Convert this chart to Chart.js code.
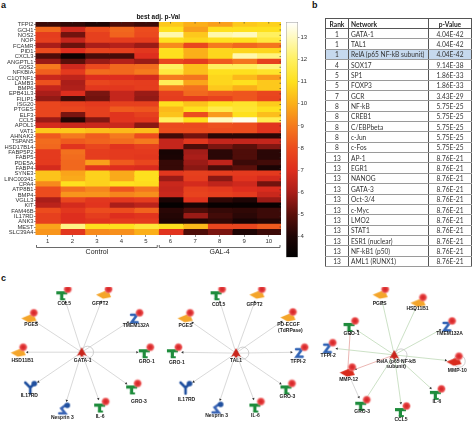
<!DOCTYPE html>
<html>
<head>
<meta charset="utf-8">
<title>Expression heatmap and transcription networks</title>
<script src="https://cdn.jsdelivr.net/npm/chart.js@4"></script>
<style>
  html, body { margin: 0; padding: 0; background: #fff; }
  body { position: relative; width: 474px; height: 428px; overflow: hidden; }
  canvas { position: absolute; display: block; }
  .panel { position: absolute; font: bold 9px "Liberation Sans", sans-serif; color: #111; }
  table { position: absolute; left: 325px; top: 18px; width: 146px; height: 249px; border-collapse: collapse;
          table-layout: fixed; font: 6.6px Lato, sans-serif; color: #333; border: 1px solid #555; }
  th { font-weight: bold; color: #222; height: 9px; }
  td, th { padding: 0 0 0 2px; border-bottom: 1px solid #9a9a9a; border-right: 1px solid #555; white-space: nowrap; line-height: 8px; }
  tr:first-child th { border-bottom: 1px solid #555; }
  .c { text-align: center; padding: 0; }
  .hl td { background: #c6d9ee; }
</style>
</head>
<body>
<span class="panel" style="left:1px;top:0px">a</span>
<span class="panel" style="left:312px;top:0px">b</span>
<span class="panel" style="left:1px;top:273px">c</span>
<canvas id="heat" width="284" height="262" style="left:0;top:0"></canvas>
<canvas id="colorbar" width="45" height="262" style="left:280px;top:0"></canvas>
<canvas id="network" width="474" height="148" style="left:0;top:280px"></canvas>
<div id="tableHolder"></div>
<script>
const genes = ["TFPI2","GCH1","NOS2","NOP","FCAMR","PID1","CXCL3","ANGPTL1","G0S2","NFKBIA",
  "C1QTNF1","LAMB3","BMP6","EPB41L3","FILIP1","ISG20","PTGES","ELF3","CCL5","APOL1",
  "VAT1","AHNAK2","TSPAN5","HSD17B14","FABP5P2","FABP5","PDE5A","FABP4","SYNE3","LINC00341",
  "CPA4","ATP8B1","BMP4","VGLL3","KIT","FAM46B","IL17RD","ANK3","MEST","SLC39A4"];
const samples = ["1","2","3","4","5","6","7","8","9","10"];
const groups = [["Control", 0, 5], ["GAL-4", 5, 10]];

// log2 expression, one row per gene
const controlRows = [
  [4.5,4.3,4.0,4.8,4.5],[8.6,6.7,8.0,8.6,8.0],[7.5,5.3,7.6,8.5,7.9],[7.6,6.5,7.6,7.5,7.5],[6.0,5.2,6.0,6.2,5.8],
  [8.0,7.0,7.7,7.6,7.3],[4.8,3.5,4.7,4.7,7.0],[5.8,5.0,5.8,6.2,5.8],[9.0,6.7,7.9,8.6,8.7],[8.4,7.4,8.7,8.6,9.0],
  [6.6,6.4,7.0,7.0,6.8],[8.1,6.0,7.8,7.6,7.5],[6.5,6.1,7.3,7.3,7.5],[6.0,7.0,5.4,6.5,5.8],[5.7,4.6,5.3,6.5,5.7],
  [7.8,7.6,7.4,7.6,7.6],[7.8,7.8,7.6,8.3,8.2],[7.8,5.4,7.6,7.2,7.6],[5.8,4.1,5.5,7.2,7.3],[6.8,6.6,6.6,6.6,5.6],
  [10.5,10.5,10.3,10.2,10.3],[8.3,9.0,8.4,9.0,8.0],[8.7,8.3,8.5,8.7,9.0],[8.6,7.2,7.8,7.2,7.6],[7.4,8.8,7.5,7.4,7.4],
  [7.4,8.7,7.5,7.4,7.3],[7.4,8.6,9.7,8.3,7.8],[6.8,8.6,7.2,7.0,6.9],[10.4,9.8,10.7,9.9,11.0],[10.4,9.9,10.7,9.9,11.0],
  [9.3,11.0,10.7,11.0,10.9],[8.0,8.8,9.2,8.2,8.9],[8.0,9.5,9.5,9.2,9.4],[6.0,7.8,7.3,7.3,7.5],[6.3,6.8,7.2,6.0,6.3],
  [8.0,7.3,8.0,8.0,8.5],[7.6,7.0,7.5,7.0,7.2],[7.6,7.0,7.2,7.4,7.4],[9.8,12.4,11.0,11.0,11.4],[9.5,7.3,9.3,9.4,10.0]
];
const gal4Rows = [
  [10.5,10.0,9.7,10.5,10.7],[11.0,9.7,11.0,11.0,11.0],[12.8,10.5,12.8,13.0,12.0],[11.0,10.8,11.0,11.0,11.5],[9.3,7.8,9.0,8.6,8.9],
  [11.0,10.0,10.8,10.8,10.8],[11.0,10.0,10.8,12.8,12.3],[7.8,7.4,8.3,8.9,7.6],[12.0,10.3,12.0,12.0,12.3],[11.5,10.3,11.0,11.0,11.2],
  [9.0,8.9,10.8,10.2,9.6],[11.9,9.8,10.8,11.0,10.5],[9.0,8.8,10.5,10.0,10.5],[7.6,8.6,8.3,8.2,7.8],[7.5,7.4,7.7,8.2,7.7],
  [11.0,10.4,11.0,11.2,10.6],[10.2,11.0,11.7,11.3,11.0],[10.4,8.0,9.6,11.0,10.3],[12.0,11.0,13.0,13.5,11.8],[7.9,7.9,8.1,8.0,7.2],
  [8.0,8.0,8.0,8.0,7.2],[4.6,5.3,4.2,4.2,4.2],[6.5,7.3,6.5,6.5,6.5],[6.5,4.8,5.4,5.0,5.5],[3.8,5.9,4.2,4.8,4.2],
  [3.9,6.0,4.2,4.8,4.2],[4.4,5.8,6.4,4.5,4.6],[4.4,5.6,4.7,5.0,3.9],[7.3,7.6,7.5,7.4,7.4],[5.8,7.5,5.6,7.2,6.8],
  [6.6,6.8,6.4,6.7,5.3],[6.5,7.6,7.4,7.0,6.9],[6.6,7.7,7.6,7.4,6.6],[3.9,7.2,4.3,4.0,5.8],[3.2,3.8,3.3,3.3,3.3],
  [4.2,4.8,4.4,4.3,4.5],[4.1,5.8,4.6,4.2,4.5],[4.0,4.1,4.3,3.8,4.1],[11.0,10.2,7.8,7.8,8.3],[7.2,4.8,5.4,4.0,4.5]
];

const colorbarTicks = [4,5,6,7,8,9,10,11,12,13];
const colorbarMin = 3.05;
const colorbarMax = 13.7;

const ranks = [1,1,1,4,5,5,7,8,8,8,8,8,13,13,13,13,13,13,13,13,13,13,13];
const networks = ["GATA-1","TAL1","RelA (p65 NF-kB subunit)","SOX17","SP1","FOXP3","GCR","NF-kB","CREB1","C/EBPbeta","c-Jun","c-Fos",
  "AP-1","EGR1","NANOG","GATA-3","Oct-3/4","c-Myc","LMO2","STAT1","ESR1 (nuclear)","NF-kB1 (p50)","AML1 (RUNX1)"];
const pValues = ["4.04E-42","4.04E-42","4.04E-42","9.14E-38","1.86E-33","1.86E-33","3.43E-29","5.75E-25","5.75E-25","5.75E-25","5.75E-25","5.75E-25",
  "8.76E-21","8.76E-21","8.76E-21","8.76E-21","8.76E-21","8.76E-21","8.76E-21","8.76E-21","8.76E-21","8.76E-21","8.76E-21"];

// network nodes: name, x, y, icon kind, label x, label y
const gataNodes = [
  ["COL5",58,288,"T",59,298],["GFPT2",100,288,"F",96,298],["PGES",23,314,"F",25,322],["TMEM132A",132,314,"Z",133,323],
  ["HSD11B1",12,352,"F",16,361],["GRO-1",143,352,"T",144,362],["IL17RD",25,390,"Y",23,400],["GRO-3",130,392,"T",136,407],
  ["Nesprin 3",59,414,"C",57,424],["IL-6",97,412,"T",96,423]
];
const talNodes = [
  ["COL5",217,288,"T",218,299],["GFPT2",258,288,"F",255,299],["PGES",184,314,"F",184,323],["PD-ECGF",290,313,"F",290,322],
  ["GRO-1",172,352,"T",175,364],["TFPI-2",302,352,"Z",300,362],["IL17RD",185,390,"Y",185,404],["GRO-3",289,392,"T",289,401],
  ["Nesprin 3",217,413,"C",216,422],["IL-6",257,412,"T",256,422]
];
const relaNodes = [
  ["PGES",385,288,"F",384,298],["HSD11B1",424,297,"F",423,304],["GRO-1",354,323,"T",355,332],["TMEM132A",454,323,"Z",456,332],
  ["TFPI-2",331,347,"Z",331,356],["MMP-10",461,362,"M",464,372],["MMP-12",351,374,"M",352,382],["IL-6",443,398,"T",443,407],
  ["GRO-3",366,410,"T",366,418],["CCL5",407,417,"T",406,426]
];
const hubs = [["GATA-1",77,352,78,361],["TAL1",236,353,236,361],["RelA (p65 NF-kB",399,355,401,362]];
const extraLabels = [["(TdRPase)",292,328],["subunit)",401,368]];
const selfLoops = [[83,352],[243,353],[406,355],[466,362]];
// extra interactions between targets in the RelA network: from, to
const mmpEdges = [[374,"GRO-1"],[374,"GRO-3"]];

const stops = [[3.05,[0,0,0]],[4,[30,5,5]],[5,[90,15,10]],[6,[170,30,25]],[7,[222,46,30]],[8,[236,76,30]],
  [9,[245,122,30]],[10,[251,175,25]],[11,[254,224,30]],[12,[255,240,95]],[13,[255,250,190]],[13.7,[255,255,255]]];

function heatColor(v) {
  if (v <= stops[0][0]) return "rgb(0,0,0)";
  for (let i = 1; i < stops.length; i++) {
    if (v <= stops[i][0]) {
      const a = stops[i - 1], b = stops[i];
      const t = (v - a[0]) / (b[0] - a[0]);
      const c = a[1].map((p, k) => Math.round(p + (b[1][k] - p) * t));
      return "rgb(" + c.join(",") + ")";
    }
  }
  return "rgb(255,255,255)";
}

// stacked horizontal bars: every gene is a row, every sample one unit wide
const heatRows = genes.map((g, i) => controlRows[i].concat(gal4Rows[i]));
const heatDatasets = samples.map((s, col) => ({
  label: s,
  data: genes.map(() => 1),
  backgroundColor: heatRows.map(r => heatColor(r[col])),
  barPercentage: 1,
  categoryPercentage: 1,
  inflateAmount: 0.6,
  stack: "all"
}));

const groupBrackets = {
  id: "groupBrackets",
  afterDraw(chart) {
    const ctx = chart.ctx, x = chart.scales.x, y = chart.scales.y, a = chart.chartArea;
    ctx.save();
    // small ticks along the top and the right edge of the map
    ctx.strokeStyle = "#333";
    ctx.lineWidth = 0.6;
    ctx.beginPath();
    samples.forEach((s, i) => { const px = x.getPixelForValue(i + 0.5); ctx.moveTo(px, a.top); ctx.lineTo(px, a.top + 1.5); });
    genes.forEach((g, i) => { const py = y.getPixelForValue(i); ctx.moveTo(a.right, py); ctx.lineTo(a.right - 1.5, py); });
    ctx.stroke();
    ctx.strokeStyle = "#444";
    ctx.lineWidth = 0.8;
    ctx.fillStyle = "#222";
    ctx.font = '7px "Liberation Sans"';
    ctx.textAlign = "center";
    ctx.textBaseline = "middle";
    groups.forEach(g => {
      const x0 = x.getPixelForValue(g[1]) + 1, x1 = x.getPixelForValue(g[2]) - 1;
      ctx.beginPath();
      ctx.moveTo(x0, 245); ctx.lineTo(x0, 247.5); ctx.lineTo(x1, 247.5); ctx.lineTo(x1, 245);
      ctx.stroke();
      ctx.fillText(g[0], (x0 + x1) / 2, 252.5);
    });
    ctx.restore();
  }
};

new Chart(document.getElementById("heat"), {
  type: "bar",
  data: { labels: genes, datasets: heatDatasets },
  options: {
    indexAxis: "y",
    responsive: false,
    animation: false,
    events: [],
    layout: { padding: { right: 3 } },
    plugins: {
      legend: { display: false },
      tooltip: { enabled: false },
      title: {
        display: true,
        fullSize: false,
        text: "best adj. p-Val",
        color: "#111",
        align: "center",
        font: { family: "Liberation Sans", size: 6.5, weight: "bold" },
        padding: { top: 13, bottom: 1.2 }
      }
    },
    scales: {
      x: {
        stacked: true,
        min: 0,
        max: 10,
        afterBuildTicks(scale) { scale.ticks = samples.map((s, i) => ({ value: i + 0.5 })); },
        ticks: {
          callback: (v, i) => samples[i],
          autoSkip: false,
          maxRotation: 0,
          color: "#333",
          padding: 1,
          font: { family: "Liberation Sans", size: 6 }
        },
        grid: { display: true, drawOnChartArea: false, tickLength: 2, color: "#444", lineWidth: 0.6 },
        border: { display: false },
        afterFit(scale) { scale.height = 27; }
      },
      y: {
        stacked: true,
        ticks: {
          autoSkip: false,
          color: "#333",
          padding: 0.5,
          font: { family: "Liberation Sans", size: 5.8 }
        },
        grid: { display: true, offset: false, drawOnChartArea: false, tickLength: 1.5, color: "#444", lineWidth: 0.6 },
        border: { display: false },
        afterFit(scale) { scale.width = 35.5; }
      }
    }
  },
  plugins: [groupBrackets]
});

function barGradient(context) {
  const area = context.chart.chartArea;
  if (!area) return "#000";
  const g = context.chart.ctx.createLinearGradient(0, area.bottom, 0, area.top);
  stops.forEach(s => g.addColorStop((s[0] - colorbarMin) / (colorbarMax - colorbarMin), heatColor(s[0])));
  return g;
}

new Chart(document.getElementById("colorbar"), {
  type: "bar",
  data: {
    labels: [""],
    datasets: [{
      data: [[colorbarMin, colorbarMax]],
      backgroundColor: barGradient,
      borderColor: "#999",
      borderWidth: 0.8,
      borderSkipped: false,
      barPercentage: 1,
      categoryPercentage: 1
    }]
  },
  options: {
    responsive: false,
    animation: false,
    events: [],
    layout: { padding: { left: 6, top: 22 } },
    plugins: { legend: { display: false }, tooltip: { enabled: false } },
    scales: {
      x: { display: false },
      y: {
        position: "right",
        min: colorbarMin,
        max: colorbarMax,
        afterBuildTicks(scale) { scale.ticks = colorbarTicks.map(v => ({ value: v })); },
        ticks: { color: "#333", padding: 1, font: { family: "Liberation Sans", size: 6 } },
        grid: { display: true, drawOnChartArea: false, tickLength: 1.5, color: "#555", lineWidth: 0.6 },
        border: { display: false },
        afterFit(scale) { scale.width = 27; }
      }
    }
  }
});

// ---- table of enriched networks ----
const table = document.createElement("table");
table.innerHTML = '<colgroup><col style="width:23px"><col style="width:80px"><col style="width:43px"></colgroup>' +
  '<tr><th class="c">Rank</th><th style="text-align:left">Network</th><th class="c">p-Value</th></tr>' +
  ranks.map((r, i) =>
    '<tr' + (i === 2 ? ' class="hl"' : "") + '><td class="c">' + r + "</td><td>" + networks[i] + '</td><td class="c">' + pValues[i] + "</td></tr>"
  ).join("");
document.getElementById("tableHolder").appendChild(table);

// ---- network icons ----
function makeIcon(kind) {
  const c = document.createElement("canvas");
  c.width = 20; c.height = 20;
  const g = c.getContext("2d");
  g.lineCap = "round";
  if (kind === "T") {
    g.fillStyle = "#1e8c3c";
    g.fillRect(3, 7, 11, 3.2);
    g.fillRect(6.8, 9, 3.2, 6);
    g.fillRect(6.8, 14, 5, 2);
  } else if (kind === "Z") {
    g.strokeStyle = "#2f62b4"; g.lineWidth = 2.6;
    g.beginPath(); g.moveTo(6, 7); g.lineTo(12, 7); g.lineTo(6.5, 14.5); g.lineTo(12.5, 14.5); g.stroke();
  } else if (kind === "Y") {
    g.strokeStyle = "#20509f"; g.lineWidth = 2.6;
    g.beginPath(); g.moveTo(4, 6); g.lineTo(9, 11); g.lineTo(9, 17); g.moveTo(9, 11); g.lineTo(12, 8); g.stroke();
    g.fillStyle = "#20509f";
    g.beginPath(); g.arc(13, 7, 2.8, 0, 7); g.fill();
  } else if (kind === "C") {
    g.strokeStyle = "#3a64b4"; g.lineWidth = 2.6;
    g.beginPath(); g.moveTo(5, 15); g.lineTo(11, 15); g.lineTo(7, 10); g.lineTo(11, 7); g.stroke();
    g.fillStyle = "#20509f";
    g.beginPath(); g.arc(13, 7, 2.8, 0, 7); g.fill();
  } else if (kind === "F" || kind === "M") {
    g.fillStyle = kind === "F" ? "#f4a52a" : "#d92b1c";
    g.beginPath(); g.moveTo(2, 10.5); g.lineTo(14, 5.5); g.lineTo(17, 13); g.lineTo(9, 14.5); g.closePath(); g.fill();
  } else if (kind === "H") {
    g.fillStyle = "#c9261c";
    g.beginPath(); g.moveTo(10, 5); g.lineTo(15, 14); g.lineTo(12, 12.5); g.lineTo(10, 15); g.lineTo(8, 12.5); g.lineTo(5, 14); g.closePath(); g.fill();
  }
  if ("TZFM".includes(kind)) {
    const r = g.createRadialGradient(14.5, 5, 1, 14.5, 5, 4.6);
    r.addColorStop(0, "#d8282a"); r.addColorStop(0.55, "#e84a4a"); r.addColorStop(1, "rgba(250,170,170,0.25)");
    g.fillStyle = r;
    g.beginPath(); g.arc(14.5, 5, 4.6, 0, 7); g.fill();
  }
  return c;
}
const icons = {};
["T", "Z", "Y", "C", "F", "M", "H"].forEach(k => { icons[k] = makeIcon(k); });

// one two-point line per edge, stopped short of the target, with a small arrow head at its end
function edgeDataset(x0, y0, x1, y1, color) {
  const dx = x1 - x0, dy = y1 - y0, len = Math.hypot(dx, dy);
  const ex = x1 - dx / len * 9, ey = y1 - dy / len * 9;
  return {
    type: "scatter",
    showLine: true,
    data: [{ x: x0, y: y0 }, { x: ex, y: ey }],
    borderColor: color,
    borderWidth: 0.8,
    pointStyle: "triangle",
    pointRadius: [0, 1.5],
    pointRotation: Math.atan2(dx, -dy) * 180 / Math.PI,
    pointBackgroundColor: "#333",
    pointBorderWidth: 0,
    order: 3
  };
}

const netDatasets = [];
const nodeSets = [gataNodes, talNodes, relaNodes];
nodeSets.forEach((nodes, n) => {
  const hub = hubs[n];
  nodes.forEach(nd => {
    const red = n === 2 && nd[0] === "MMP-12";
    const color = red ? "#e6a3a0" : n === 2 ? "#bfd9b8" : "#cfcfcf";
    netDatasets.push(edgeDataset(hub[1], hub[2], nd[1], nd[2], color));
  });
});
const mmp12 = relaNodes.find(nd => nd[0] === "MMP-12");
mmpEdges.forEach(e => {
  const to = relaNodes.find(nd => nd[0] === e[1]);
  netDatasets.push(edgeDataset(mmp12[1], mmp12[2], to[1], to[2], e[1] === "GRO-1" ? "#e6a3a0" : "#cfcfcf"));
});
netDatasets.push({
  type: "scatter",
  data: selfLoops.map(p => ({ x: p[0], y: p[1] })),
  pointRadius: 6,
  pointBackgroundColor: "rgba(0,0,0,0)",
  pointBorderColor: "#c4c4c4",
  pointBorderWidth: 0.8,
  order: 2
});
const allNodes = gataNodes.concat(talNodes, relaNodes);
netDatasets.push({
  type: "scatter",
  data: allNodes.map(nd => ({ x: nd[1], y: nd[2] })).concat(hubs.map(h => ({ x: h[1], y: h[2] }))),
  pointStyle: allNodes.map(nd => icons[nd[3]]).concat(hubs.map(() => icons.H)),
  pointRadius: 6,
  order: 1
});

const nodeLabels = {
  id: "nodeLabels",
  afterDatasetsDraw(chart) {
    const ctx = chart.ctx, x = chart.scales.x, y = chart.scales.y;
    ctx.save();
    ctx.fillStyle = "#222";
    ctx.font = 'bold 5px "Liberation Sans"';
    ctx.textAlign = "center";
    ctx.textBaseline = "middle";
    const put = (t, px, py) => ctx.fillText(t, x.getPixelForValue(px), y.getPixelForValue(py));
    allNodes.forEach(nd => put(nd[0], nd[4], nd[5]));
    hubs.forEach(h => put(h[0], h[3], h[4]));
    extraLabels.forEach(l => put(l[0], l[1], l[2]));
    ctx.restore();
  }
};

new Chart(document.getElementById("network"), {
  type: "scatter",
  data: { datasets: netDatasets },
  options: {
    responsive: false,
    animation: false,
    events: [],
    plugins: { legend: { display: false }, tooltip: { enabled: false } },
    scales: {
      x: { type: "linear", min: 0, max: 474, display: false },
      y: { type: "linear", min: 280, max: 428, reverse: true, display: false }
    }
  },
  plugins: [nodeLabels]
});
</script>
</body>
</html>
